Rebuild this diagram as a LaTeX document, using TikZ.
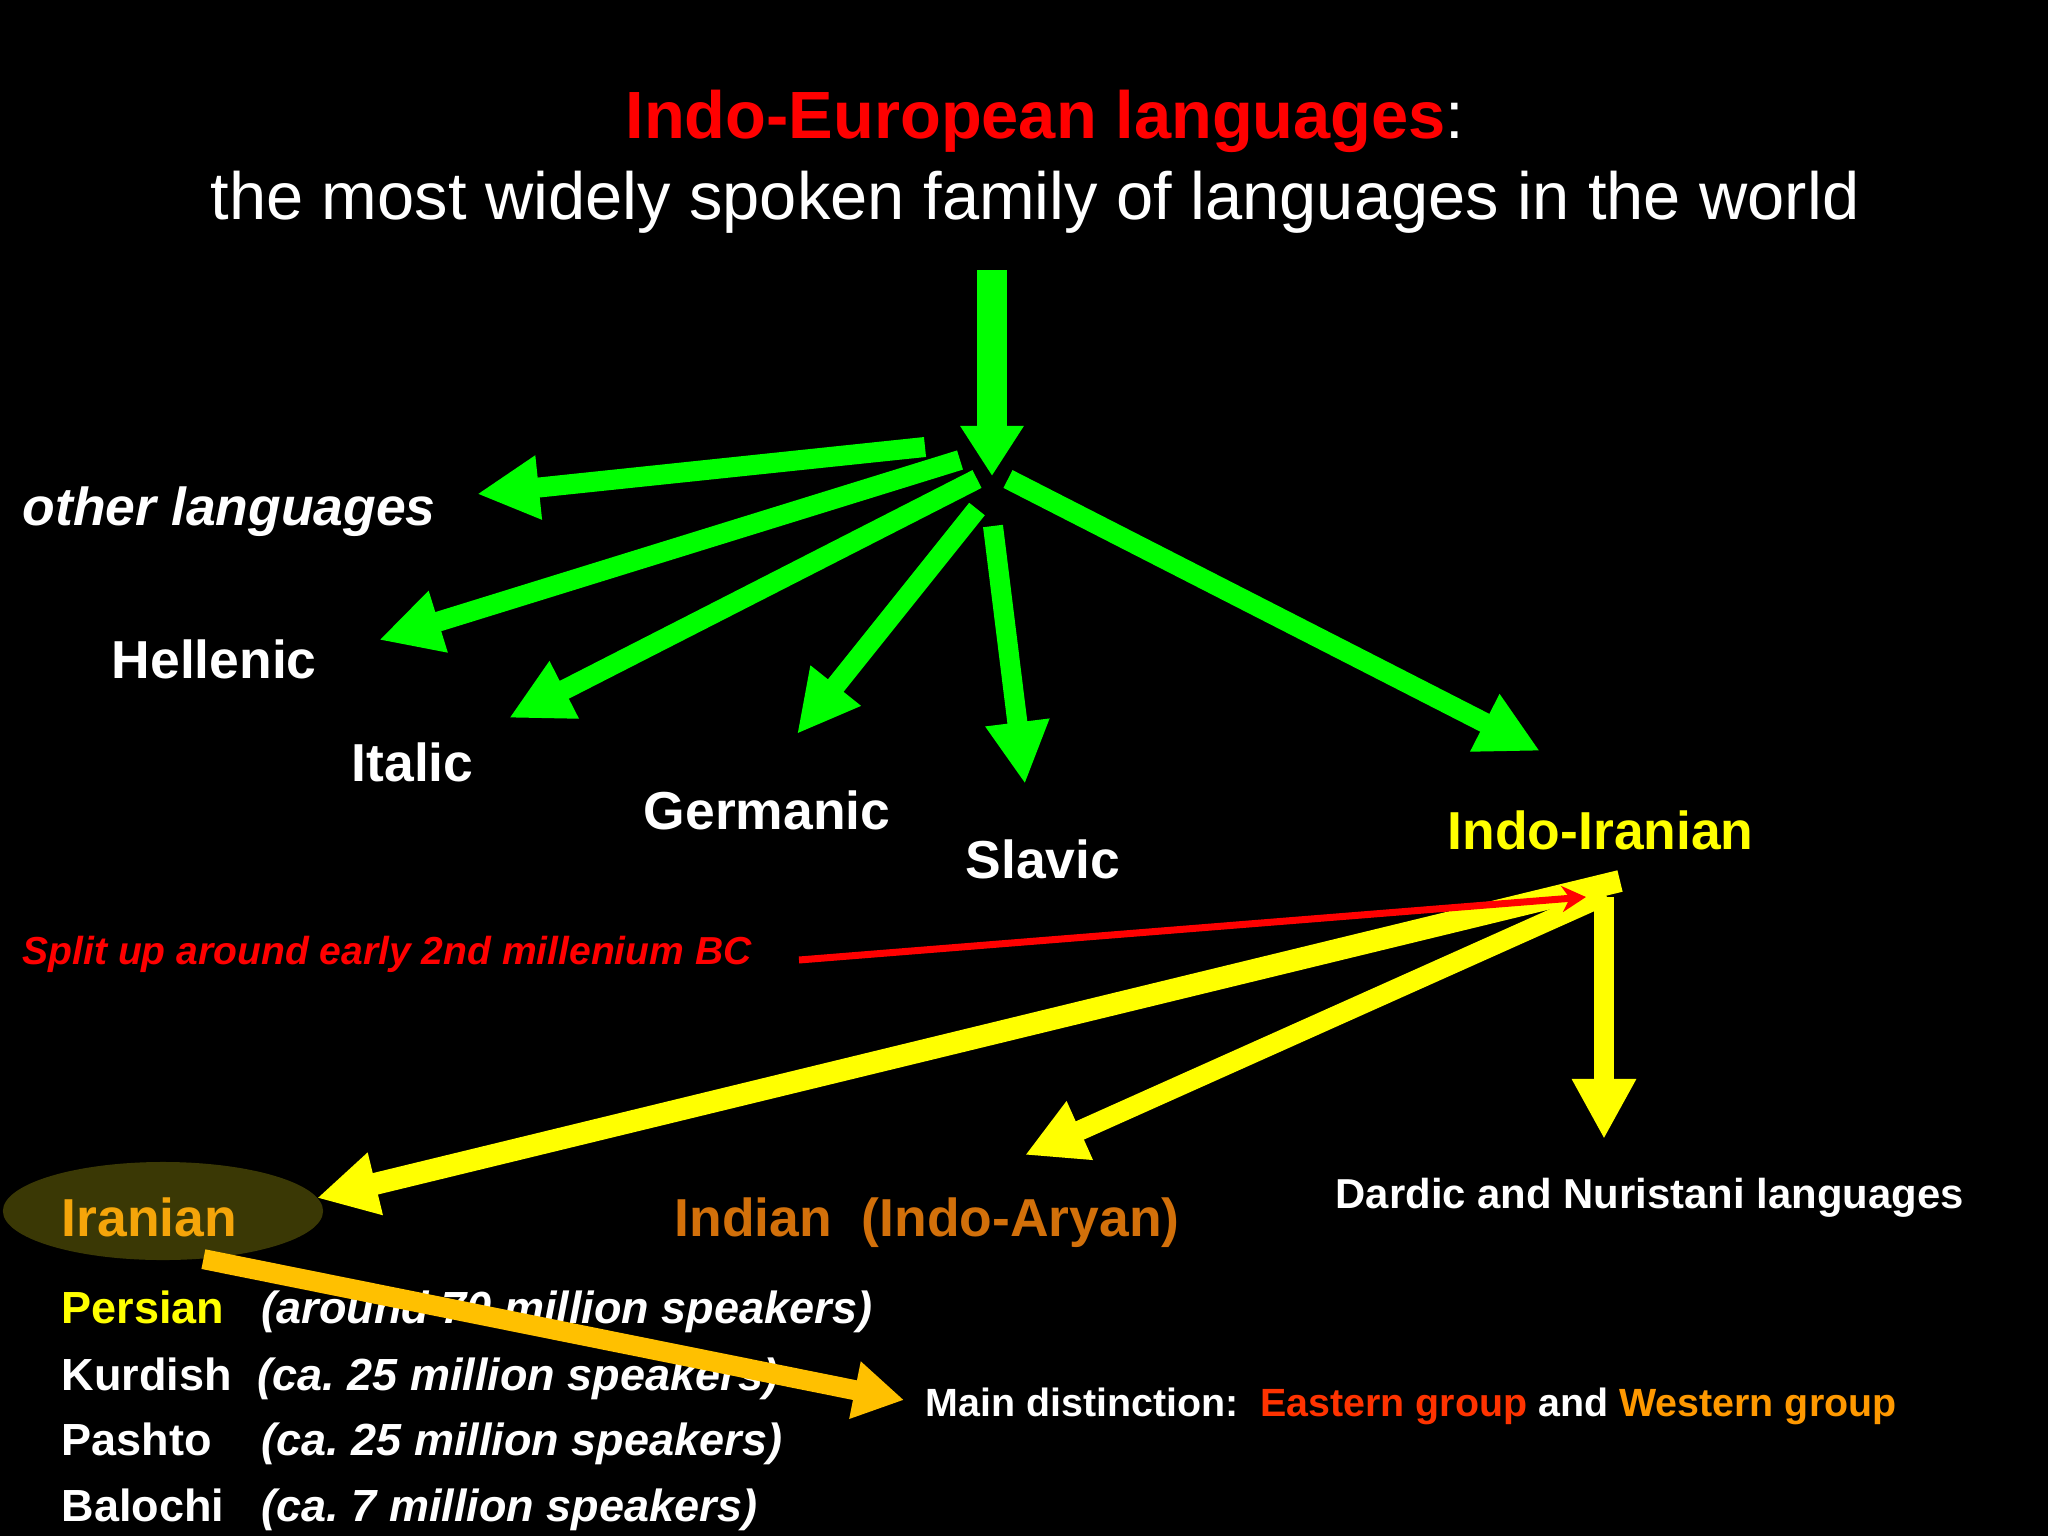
\documentclass[tikz,border=0pt]{standalone}
\usepackage{fontspec}
\setmainfont{Liberation Sans}
\usetikzlibrary{arrows.meta,shapes.geometric}
\frenchspacing

\definecolor{verde}{RGB}{0,255,0}
\definecolor{amarillo}{RGB}{255,255,0}
\definecolor{rojo}{RGB}{255,0,0}
\definecolor{naranja}{RGB}{245,165,10}
\definecolor{naranjaosc}{RGB}{210,112,10}
\definecolor{oliva}{RGB}{58,56,5}
\definecolor{dorado}{RGB}{255,192,0}
\definecolor{este}{RGB}{255,51,0}
\definecolor{oeste}{RGB}{255,153,0}

\tikzset{
  titulo/.style={font=\fontsize{19}{23}\selectfont,text=white,inner sep=0pt,anchor=base},
  rotulo/.style={font=\bfseries\fontsize{15.2}{18}\selectfont,text=white,inner sep=0pt,anchor=base west},
  lista/.style={font=\bfseries\fontsize{12.8}{15}\selectfont,text=white,inner sep=0pt,anchor=base west},
  nota/.style={lista,font=\bfseries\itshape\fontsize{12.8}{15}\selectfont},
  peq/.style={font=\bfseries\fontsize{11.2}{14}\selectfont,text=white,inner sep=0pt,anchor=base west},
  tronco/.style={draw=verde,line width=0.3cm,-{Triangle[width=0.6cm,length=0.5cm]}},
  rama/.style={draw=verde,line width=0.2cm,-{Triangle[width=0.6cm,length=0.62cm]}},
  ramay/.style={draw=amarillo,line width=0.2cm,-{Triangle[width=0.6cm,length=0.6cm]}}
}

\begin{document}
\begin{tikzpicture}[x=0.01cm,y=-0.01cm]
    % Fondo
    \fill[black] (0,0) rectangle (2048,1536);
    \useasboundingbox (0,0) rectangle (2048,1536);

    % Titulo
    \node[titulo,font=\bfseries\fontsize{19}{23}\selectfont,text=rojo] (tit1) at (1045,138)
        {Indo-European languages\textcolor{white}{\mdseries:}};
    \node[titulo] (tit2) at (1035,219) {the most widely spoken family of languages in the world};

    % Ramas del indoeuropeo
    \node[rotulo,font=\bfseries\itshape\fontsize{15.2}{18}\selectfont] (otras) at (22,525) {other languages};
    \node[rotulo] (hel) at (111,678) {Hellenic};
    \node[rotulo] (ita) at (351,781) {Italic};
    \node[rotulo] (ger) at (643,829) {Germanic};
    \node[rotulo] (esl) at (965,878) {Slavic};
    \node[rotulo,text=amarillo] (indir) at (1447,849) {Indo-Iranian};

    % Flecha principal
    \coordinate (raiz) at (992,270);
    \coordinate (nudo) at (992,476);
    \draw[tronco] (raiz) -- (nudo);

    % Flechas verdes
    \coordinate (o1) at (925,447);  \coordinate (o2) at (477,494);
    \coordinate (h1) at (960,460);  \coordinate (h2) at (379,640);
    \coordinate (i1) at (977,479);  \coordinate (i2) at (509,718);
    \coordinate (g1) at (977,509);  \coordinate (g2) at (797,734);
    \coordinate (s1) at (993,526);  \coordinate (s2) at (1025,784);
    \coordinate (d1) at (1008,479); \coordinate (d2) at (1540,751);
    \draw[rama] (o1) -- (o2);
    \draw[rama] (h1) -- (h2);
    \draw[rama] (i1) -- (i2);
    \draw[rama] (g1) -- (g2);
    \draw[rama] (s1) -- (s2);
    \draw[rama] (d1) -- (d2);

    % Fecha de la division
    \node[peq,font=\bfseries\itshape\fontsize{11.1}{14}\selectfont,text=rojo] (fecha) at (22,964)
        {Split up around early 2nd millenium BC};

    % Subramas indoiranias
    \node[ellipse,fill=oliva,inner sep=0pt,minimum width=3.2cm,minimum height=0.98cm] (elipse) at (163,1211) {};
    \node[rotulo,text=naranja] (iran) at (61,1236) {Iranian};
    \node[rotulo,text=naranjaosc] (indio) at (674,1236) {Indian\ \ (Indo-Aryan)};
    \node[peq,font=\bfseries\fontsize{11.9}{14}\selectfont] (dardo) at (1335,1208) {Dardic and Nuristani languages};

    \coordinate (y1) at (1620,881); \coordinate (y2) at (317,1198);
    \coordinate (y3) at (1606,895); \coordinate (y4) at (1025,1155);
    \coordinate (y5) at (1604,897); \coordinate (y6) at (1604,1139);
    \draw[ramay,line width=0.22cm] (y1) -- (y2);
    \draw[ramay] (y3) -- (y4);
    \draw[ramay] (y5) -- (y6);

    % Flecha roja
    \coordinate (r1) at (799,960); \coordinate (r2) at (1586,897);
    \draw[rojo,line width=0.07cm,-{Stealth[length=0.24cm,width=0.26cm]}] (r1) -- (r2);

    % Lenguas iranias
    \node[lista,text=amarillo] (persa) at (61,1323) {Persian};
    \node[nota] (persaN) at (261,1323) {(around 70 million speakers)};
    \foreach \nom/\x/\y/\txt in {Kurdish/257/1390/ca. 25 million speakers,
                                  Pashto/261/1455/ca. 25 million speakers,
                                  Balochi/261/1521/ca. 7 million speakers} {
        \node[lista] (\nom) at (61,\y) {\nom};
        \node[nota] (\nom N) at (\x,\y) {(\txt)};
    }

    % Grupos oriental y occidental
    \node[peq] (dist) at (925,1416)
        {Main distinction:\ \ \textcolor{este}{Eastern group} and \textcolor{oeste}{Western group}};
    \coordinate (b1) at (elipse.-50);
    \coordinate (b2) at (904,1400);
    \draw[dorado,line width=0.2cm,-{Triangle[width=0.55cm,length=0.5cm]}] (b1) -- (b2);
\end{tikzpicture}
\end{document}
